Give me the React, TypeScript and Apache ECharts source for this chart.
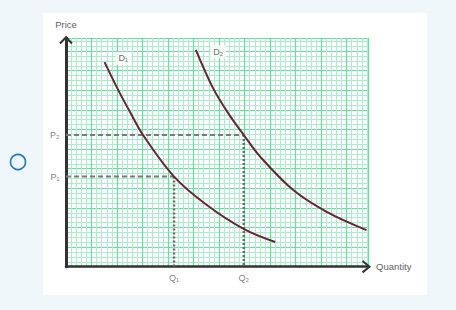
import React, { useEffect, useRef } from "react";
import * as echarts from "echarts";

// Axis extents (in grid cells)
const X_MIN = 0;
const X_MAX = 11.84;
const Y_MIN = -0.8;
const Y_MAX = 10.87;

// Demand curves (quantity, price)
const d1Points: number[][] = [
  [1.51, 9.64],
  [2.05, 8.21],
  [2.51, 7.09],
  [3.02, 5.92],
  [4.235, 3.8],
  [5.52, 2.35],
  [6.98, 1.12],
  [8.2, 0.46],
];
const d2Points: number[][] = [
  [5.09, 10.26],
  [5.75, 8.35],
  [6.35, 7.05],
  [6.97, 5.92],
  [7.61, 4.82],
  [8.91, 3.11],
  [10.22, 2.0],
  [11.78, 1.07],
];

// Equilibrium reference values
const priceLabels = ["P₁", "P₂"];
const priceValues = [3.8, 5.92];
const qtyLabels = ["Q₁", "Q₂"];
const qtyValues = [4.235, 6.97];
const curveLabels = ["D₁", "D₂"];
const curveLabelPos: number[][] = [
  [2.25, 9.83],
  [5.97, 10.17],
];

const FONT = "'Liberation Sans', Arial, sans-serif";
const TEXT_COLOR = "#5f5f5f";
const CURVE_COLOR = "#6b2336";
const GUIDE_COLOR = "#7a7a7a";
const MAJOR_GRID = "#5fe39f";
const MINOR_GRID = "#a9efc9";

export default function App() {
  const ref = useRef<HTMLDivElement>(null);

  useEffect(() => {
    if (!ref.current) return;
    const chart = echarts.init(ref.current, null, { renderer: "svg" });

    const guideSeries: any[] = [];
    priceValues.forEach((p, i) => {
      const q = qtyValues[i];
      guideSeries.push({
        type: "line",
        data: [
          [X_MIN, p],
          [q, p],
        ],
        showSymbol: false,
        silent: true,
        z: 3,
        lineStyle: { color: GUIDE_COLOR, width: 2, type: [5, 3] },
      });
      guideSeries.push({
        type: "line",
        data: [
          [q, p],
          [q, Y_MIN],
        ],
        showSymbol: false,
        silent: true,
        z: 3,
        lineStyle: { color: "#6a6a6a", width: 2.5, type: [2, 2] },
      });
    });

    const labelStyle = {
      fontFamily: FONT,
      fontSize: 9,
      color: TEXT_COLOR,
    };

    chart.setOption({
      animation: false,
      backgroundColor: "#f0f7fb",
      textStyle: { fontFamily: FONT },
      grid: { left: 66, top: 38, width: 302, height: 228.7 },
      xAxis: {
        type: "value",
        min: X_MIN,
        max: X_MAX,
        interval: 1,
        name: "Quantity",
        nameLocation: "end",
        nameGap: 8,
        nameTextStyle: {
          fontFamily: FONT,
          fontSize: 9.5,
          color: TEXT_COLOR,
          align: "left",
          verticalAlign: "middle",
          padding: [3, 0, 0, 0],
        },
        axisLine: {
          show: true,
          onZero: false,
          lineStyle: { color: "#333", width: 2.5 },
        },
        axisTick: { show: false },
        axisLabel: { show: false },
        splitLine: { show: true, lineStyle: { color: MAJOR_GRID, width: 1.2 } },
        minorTick: { show: false, splitNumber: 5 },
        minorSplitLine: { show: true, lineStyle: { color: MINOR_GRID, width: 1 } },
      },
      yAxis: {
        type: "value",
        min: Y_MIN,
        max: Y_MAX,
        interval: 1,
        name: "Price",
        nameLocation: "end",
        nameGap: 14,
        nameTextStyle: {
          fontFamily: FONT,
          fontSize: 9.5,
          color: TEXT_COLOR,
          align: "center",
          verticalAlign: "middle",
        },
        axisLine: {
          show: true,
          onZero: false,
          lineStyle: { color: "#333", width: 3 },
        },
        axisTick: { show: false },
        axisLabel: { show: false },
        splitLine: { show: true, lineStyle: { color: MAJOR_GRID, width: 1.2 } },
        minorTick: { show: false, splitNumber: 4 },
        minorSplitLine: { show: true, lineStyle: { color: MINOR_GRID, width: 1 } },
      },
      graphic: [
        {
          type: "rect",
          z: -100,
          shape: { x: 43, y: 13, width: 384, height: 282 },
          style: { fill: "#ffffff" },
          silent: true,
        },
        {
          type: "circle",
          shape: { cx: 18, cy: 162, r: 7.5 },
          style: { fill: "none", stroke: "#1f74d0", lineWidth: 1.6 },
          silent: true,
        },
        {
          type: "polyline",
          z: 10,
          shape: {
            points: [
              [60, 43.5],
              [66, 37.3],
              [72, 43.5],
            ],
          },
          style: { stroke: "#333", lineWidth: 2, fill: "none" },
          silent: true,
        },
        {
          type: "polyline",
          z: 10,
          shape: {
            points: [
              [362.5, 261],
              [369.5, 266.7],
              [362.5, 272.4],
            ],
          },
          style: { stroke: "#333", lineWidth: 2, fill: "none" },
          silent: true,
        },
      ],
      series: [
        ...guideSeries,
        {
          type: "line",
          name: "D1",
          data: d1Points,
          smooth: 0.35,
          showSymbol: false,
          z: 5,
          lineStyle: { color: CURVE_COLOR, width: 2 },
        },
        {
          type: "line",
          name: "D2",
          data: d2Points,
          smooth: 0.35,
          showSymbol: false,
          z: 5,
          lineStyle: { color: CURVE_COLOR, width: 2 },
        },
        {
          type: "scatter",
          symbolSize: 1,
          itemStyle: { color: "rgba(0,0,0,0)" },
          silent: true,
          z: 6,
          data: priceLabels.map((n, i) => ({ name: n, value: [X_MIN, priceValues[i]] })),
          label: {
            show: true,
            position: "left",
            distance: 6,
            formatter: "{b}",
            ...labelStyle,
          },
        },
        {
          type: "scatter",
          symbolSize: 1,
          itemStyle: { color: "rgba(0,0,0,0)" },
          silent: true,
          z: 6,
          data: qtyLabels.map((n, i) => ({ name: n, value: [qtyValues[i], Y_MIN] })),
          label: {
            show: true,
            position: "bottom",
            distance: 6,
            formatter: "{b}",
            ...labelStyle,
          },
        },
        {
          type: "scatter",
          symbolSize: 1,
          itemStyle: { color: "rgba(0,0,0,0)" },
          silent: true,
          z: 6,
          data: curveLabels.map((n, i) => ({ name: n, value: curveLabelPos[i] })),
          label: {
            show: true,
            position: "inside",
            formatter: "{b}",
            ...labelStyle,
            color: "#444",
            backgroundColor: "#ffffff",
            padding: [2, 3, 2, 3],
          },
        },
      ],
    });

    return () => chart.dispose();
  }, []);

  return (
    <div
      ref={ref}
      style={{ position: "absolute", left: 0, top: 0, width: 456, height: 310 }}
    />
  );
}
